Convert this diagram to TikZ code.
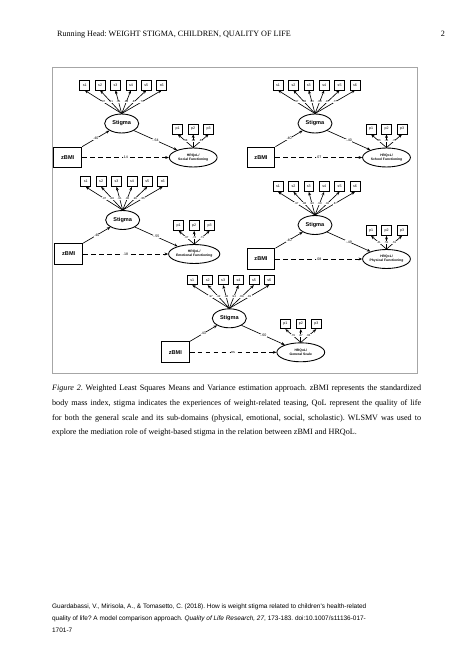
\documentclass[tikz,border=0pt]{standalone}
\usepackage{fontspec}
\setmainfont{Liberation Serif}
\newfontfamily\diagfont{Liberation Sans}
\newfontfamily\citefont{Liberation Sans}
\usetikzlibrary{shapes.geometric,arrows.meta}
\frenchspacing

\tikzset{
 sbox/.style={draw,line width=0.8pt,minimum width=12.5pt,minimum height=12.5pt,inner sep=0pt,font=\diagfont\fontsize{4.5}{5}\selectfont},
 latent/.style={draw,ellipse,line width=1.1pt,inner sep=0pt,minimum width=42.7pt,minimum height=23.8pt,font=\diagfont\bfseries\fontsize{7}{8}\selectfont},
 outc/.style={draw,ellipse,line width=1.1pt,inner sep=0pt,minimum width=60pt,minimum height=23.8pt,align=center,font=\diagfont\bfseries\fontsize{4.2}{5}\selectfont},
 obs/.style={draw,line width=1.2pt,minimum width=35pt,minimum height=26pt,inner sep=0pt,font=\diagfont\bfseries\fontsize{7}{8}\selectfont},
 arr/.style={-{Stealth[length=4.5pt,width=3.6pt]},line width=0.8pt},
 lbl/.style={fill=white,inner sep=0.4pt,font=\diagfont\fontsize{3.6}{4}\selectfont},
 plbl/.style={fill=white,inner sep=0.4pt,font=\diagfont\fontsize{4.5}{5}\selectfont},
 dsh/.style={dash pattern=on 6pt off 4pt,line width=1.1pt},
 txt/.style={anchor=base west,inner sep=0pt,font=\fontsize{10.2}{12}\selectfont},
 cit/.style={anchor=base west,inner sep=0pt,font=\citefont\fontsize{8.1}{10}\selectfont},
}

\newcommand\semp[9]{%
 \begin{scope}[shift={(#2,#3)}]
  \node[latent] (#1stig) at (0,0) {Stigma};
  \node[outc] (#1hrq) at (71.5,34) {HRQoL/\\#4};
  \node[obs] (#1z) at (-54,34) {zBMI};
  \foreach \l [count=\i] in {#5} {
    \node[sbox] (#1s\i) at ({-37+15.4*(\i-1)},-38.5) {s\i};
    \draw[arr] (#1stig.north) -- node[lbl]{\l} (#1s\i.south);
  }
  \foreach \l [count=\i] in {#6} {
    \node[sbox] (#1p\i) at ({56+15.5*(\i-1)},5.5) {p\i};
    \draw[arr] (#1hrq.north) -- node[lbl]{\l} (#1p\i.south);
  }
  \draw[arr] (#1z.north east) -- node[plbl]{#7} (#1stig.210);
  \draw[arr] (#1stig.-30) -- node[plbl]{#8} (#1hrq.155);
  \draw[arr,dsh] (#1z.east) -- node[plbl]{#9} (#1hrq.west);
 \end{scope}}

\begin{document}
\begin{tikzpicture}[x=1.255pt,y=-1.255pt]
\useasboundingbox (0,0) rectangle (474,670);
\fill[white] (0,0) rectangle (474,670);

\node[txt] (head) at (57,37) {Running Head: WEIGHT STIGMA, CHILDREN, QUALITY OF LIFE};
\node[txt,anchor=base east] (pg) at (445,37) {2};

\draw[gray!70,line width=1.2pt] (52,67) rectangle (417,373);

\semp{a}{121.7}{123.5}{Social Functioning}{.97,.91,.91,.88,.87,.74}{.48,.88,.81}{.40}{-.64}{.14}
\semp{b}{315}{123.5}{School Functioning}{.97,.88,.90,.90,.87,.77}{.86,.44,.76}{.40}{-.40}{.07}
\semp{c}{122.7}{220}{Emotional Functioning}{.97,.88,.91,.90,.90,.86}{.67,.72,.71}{.40}{-.55}{.18}
\semp{d}{315}{225}{Physical Functioning}{.97,.88,.90,.90,.92,.87}{.41,.51,.61}{.40}{-.49}{.08}
\semp{e}{229.3}{318.3}{General Scale}{.97,.92,.88,.94,.89,.81}{.79,.87,.84}{.43}{-.60}{ns}

\node[txt] (cap1) at (52,390.5) {\makebox[463pt][s]{\textit{Figure 2}. Weighted Least Squares Means and Variance estimation approach. zBMI represents the standardized}};
\node[txt] (cap2) at (52,405.5) {\makebox[463pt][s]{body mass index, stigma indicates the experiences of weight-related teasing, QoL represent the quality of life}};
\node[txt] (cap3) at (52,420.5) {\makebox[463pt][s]{for both the general scale and its sub-domains (physical, emotional, social, scholastic). WLSMV was used to}};
\node[txt] (cap4) at (52,434.5) {explore the mediation role of weight-based stigma in the relation between zBMI and HRQoL.};

\node[cit] (ref1) at (52,608.5) {Guardabassi, V., Mirisola, A., \& Tomasetto, C. (2018). How is weight stigma related to children's health-related};
\node[cit] (ref2) at (52,620.5) {quality of life? A model comparison approach. \textit{Quality of Life Research, 27}, 173-183. doi:10.1007/s11136-017-};
\node[cit] (ref3) at (52,632.5) {1701-7};
\end{tikzpicture}
\end{document}
